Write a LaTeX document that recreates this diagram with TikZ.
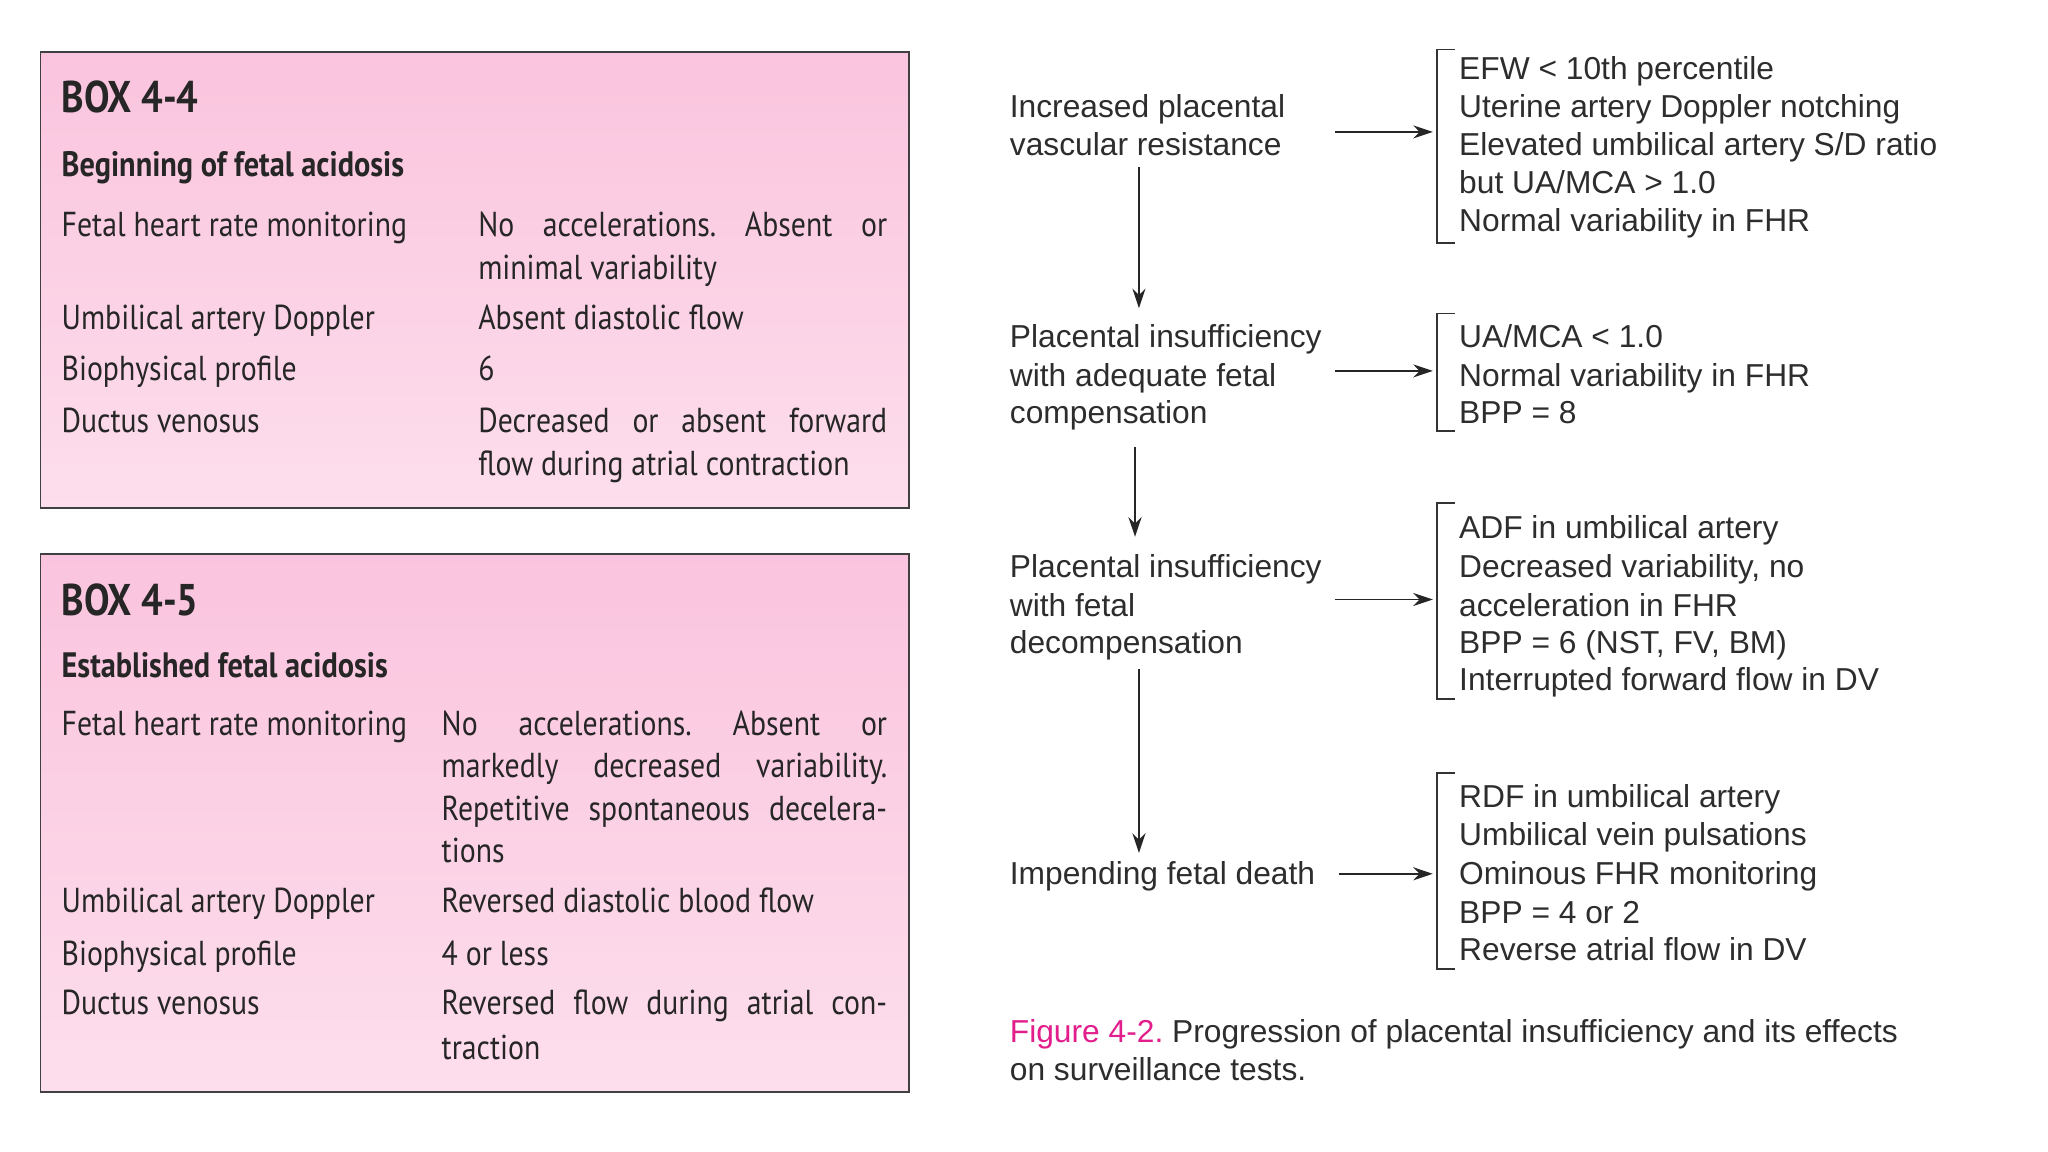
\documentclass[tikz,border=0pt]{standalone}
\usepackage{fontspec}
\setmainfont{Liberation Sans}
\newfontfamily\boxfont[FakeStretch=0.86]{PT Sans}
\usetikzlibrary{arrows.meta}
\definecolor{pinkA}{RGB}{250,196,222}
\definecolor{pinkB}{RGB}{253,222,236}
\definecolor{txt}{RGB}{45,45,45}
\definecolor{mag}{RGB}{226,30,140}
\tikzset{
 bx/.style={draw=black!75,line width=1.3pt,top color=pinkA,bottom color=pinkB},
 bt/.style={anchor=base west,inner sep=0,font=\boxfont\fontsize{26.5}{30}\selectfont,text=black!85},
 bh/.style={bt,font=\boxfont\bfseries\fontsize{34}{36}\selectfont},
 bs/.style={bt,font=\boxfont\bfseries\fontsize{27}{30}\selectfont},
 ft/.style={anchor=base west,inner sep=0,font=\fontsize{24.3}{28}\selectfont,text=txt},
 arr/.style={-{Stealth[length=15pt,width=10pt]},line width=1.3pt,black!85},
 brk/.style={line width=1.2pt,black!80},
}
\newcommand{\jl}[2]{\makebox[#1][s]{#2}}
\frenchspacing
\begin{document}
\frenchspacing
\begin{tikzpicture}[x=1pt,y=-1pt]
\useasboundingbox (0,0) rectangle (1568,882);
\fill[white] (0,0) rectangle (1568,882);
% Box 4-4
\path[bx] (31,40) rectangle (696,389);
\node[bh] (b1) at (47,86) {BOX 4-4};
\node[bs] (b1s) at (47,135) {Beginning of fetal acidosis};
\node[bt] (a1) at (47,181) {Fetal heart rate monitoring};
\node[bt] (a1r) at (366,181) {\jl{313pt}{No accelerations. Absent or}};
\node[bt] (a1r2) at (366,214) {minimal variability};
\node[bt] (a2) at (47,252) {Umbilical artery Doppler};
\node[bt] (a2r) at (366,252) {Absent diastolic flow};
\node[bt] (a3) at (47,291) {Biophysical profile};
\node[bt] (a3r) at (366,291) {6};
\node[bt] (a4) at (47,331) {Ductus venosus};
\node[bt] (a4r) at (366,331) {\jl{313pt}{Decreased or absent forward}};
\node[bt] (a4r2) at (366,364) {flow during atrial contraction};
% Box 4-5
\path[bx] (31,424) rectangle (696,836);
\node[bh] (b2) at (47,471) {BOX 4-5};
\node[bs] (b2s) at (47,519) {Established fetal acidosis};
\node[bt] (c1) at (47,563) {Fetal heart rate monitoring};
\node[bt] (c1r) at (338,563) {\jl{341pt}{No accelerations. Absent or}};
\node[bt] (c1r2) at (338,595) {\jl{341pt}{markedly decreased variability.}};
\node[bt] (c1r3) at (338,628) {\jl{341pt}{Repetitive spontaneous decelera-}};
\node[bt] (c1r4) at (338,660) {tions};
\node[bt] (c2) at (47,699) {Umbilical artery Doppler};
\node[bt] (c2r) at (338,699) {Reversed diastolic blood flow};
\node[bt] (c3) at (47,739) {Biophysical profile};
\node[bt] (c3r) at (338,739) {4 or less};
\node[bt] (c4) at (47,777) {Ductus venosus};
\node[bt] (c4r) at (338,777) {\jl{341pt}{Reversed flow during atrial con-}};
\node[bt] (c4r2) at (338,811) {traction};
% Flow
\node[ft] (s1) at (773,90) {Increased placental};
\node[ft] at (773,119) {vascular resistance};
\node[ft] (s2) at (773,266) {Placental insufficiency};
\node[ft] at (773,296) {with adequate fetal};
\node[ft] at (773,324) {compensation};
\node[ft] (s3) at (773,442) {Placental insufficiency};
\node[ft] at (773,472) {with fetal};
\node[ft] at (773,500) {decompensation};
\node[ft] (s4) at (773,677) {Impending fetal death};
\coordinate (v1a) at (872,128); \coordinate (v1b) at (872,236);
\coordinate (v2a) at (869,342); \coordinate (v2b) at (869,411);
\coordinate (v3a) at (872,512); \coordinate (v3b) at (872,653);
\draw[arr] (v1a) -- (v1b);
\draw[arr] (v2a) -- (v2b);
\draw[arr] (v3a) -- (v3b);
\coordinate (h1a) at (1022,101); \coordinate (h1b) at (1097,101);
\coordinate (h2a) at (1022,284); \coordinate (h2b) at (1097,284);
\coordinate (h3a) at (1022,459); \coordinate (h3b) at (1097,459);
\coordinate (h4a) at (1025,669); \coordinate (h4b) at (1097,669);
\draw[arr] (h1a) -- (h1b);
\draw[arr] (h2a) -- (h2b);
\draw[arr] (h3a) -- (h3b);
\draw[arr] (h4a) -- (h4b);
\draw[brk] (1114,38) -- (1100,38) -- (1100,186) -- (1114,186);
\draw[brk] (1114,240) -- (1100,240) -- (1100,330) -- (1114,330);
\draw[brk] (1114,385) -- (1100,385) -- (1100,535) -- (1114,535);
\draw[brk] (1114,592) -- (1100,592) -- (1100,742) -- (1114,742);
\node[ft] (r1) at (1117,61) {EFW < 10th percentile};
\node[ft] at (1117,90) {Uterine artery Doppler notching};
\node[ft] at (1117,119) {Elevated umbilical artery S/D ratio};
\node[ft] at (1117,148) {but UA/MCA > 1.0};
\node[ft] at (1117,177) {Normal variability in FHR};
\node[ft] (r2) at (1117,266) {UA/MCA < 1.0};
\node[ft] at (1117,296) {Normal variability in FHR};
\node[ft] at (1117,324) {BPP = 8};
\node[ft] (r3) at (1117,412) {ADF in umbilical artery};
\node[ft] at (1117,442) {Decreased variability, no};
\node[ft] at (1117,472) {acceleration in FHR};
\node[ft] at (1117,500) {BPP = 6 (NST, FV, BM)};
\node[ft] at (1117,529) {Interrupted forward flow in DV};
\node[ft] (r4) at (1117,618) {RDF in umbilical artery};
\node[ft] at (1117,647) {Umbilical vein pulsations};
\node[ft] at (1117,677) {Ominous FHR monitoring};
\node[ft] at (1117,707) {BPP = 4 or 2};
\node[ft] at (1117,735) {Reverse atrial flow in DV};
\node[ft] (cap) at (773,798) {\textcolor{mag}{Figure 4-2.} Progression of placental insufficiency and its effects};
\node[ft] at (773,827) {on surveillance tests.};
\end{tikzpicture}
\end{document}
